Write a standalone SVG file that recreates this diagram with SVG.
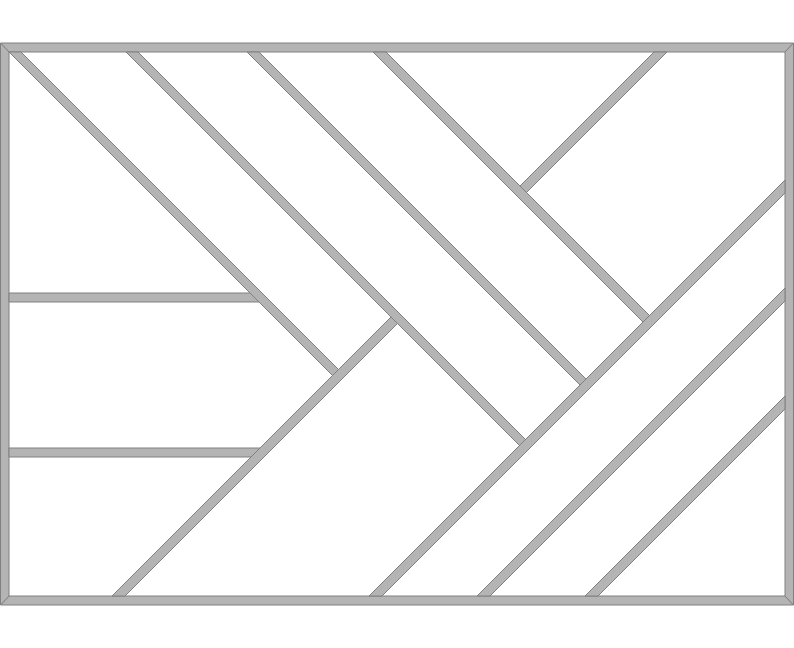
<svg xmlns="http://www.w3.org/2000/svg" width="794" height="648" viewBox="0 0 794 648">
<style>
.bar{fill:#b4b4b4;stroke:#808080;stroke-width:1;stroke-linejoin:miter}
</style>
<rect width="794" height="648" fill="#ffffff"/>
<g id="frame">
<polygon class="bar" points="0.5,43 793.5,43 785,52 9,52"/>
<polygon class="bar" points="0.5,605 793.5,605 785,596 9,596"/>
<polygon class="bar" points="0.5,43 9,52 9,596 0.5,605"/>
<polygon class="bar" points="793.5,43 785,52 785,596 793.5,605"/>
</g>
<g id="bars">
<polygon id="barA" class="bar" points="9,52 21,52 338.5,369.5 332.5,375.5"/>
<polygon id="barB" class="bar" points="112,596 125,596 397.5,323.5 391,317"/>
<polygon id="barC" class="bar" points="126,52 138,52 525.5,439.5 519.5,445.5"/>
<polygon id="barE" class="bar" points="247,52 259,52 586,379 580,385"/>
<polygon id="barF" class="bar" points="373,52 386,52 649.5,315.5 643,322"/>
<polygon id="barG" class="bar" points="654,52 667,52 526.5,192.5 520,186"/>
<polygon id="barD" class="bar" points="369,596 382,596 785,193 785,180"/>
<polygon id="barH" class="bar" points="477,596 490,596 785,301 785,288"/>
<polygon id="barI" class="bar" points="585,596 598,596 785,409 785,396"/>
<polygon id="barJ" class="bar" points="9,293 250,293 259,302 9,302"/>
<polygon id="barK" class="bar" points="9,448 260,448 251,457 9,457"/>
</g>
</svg>
